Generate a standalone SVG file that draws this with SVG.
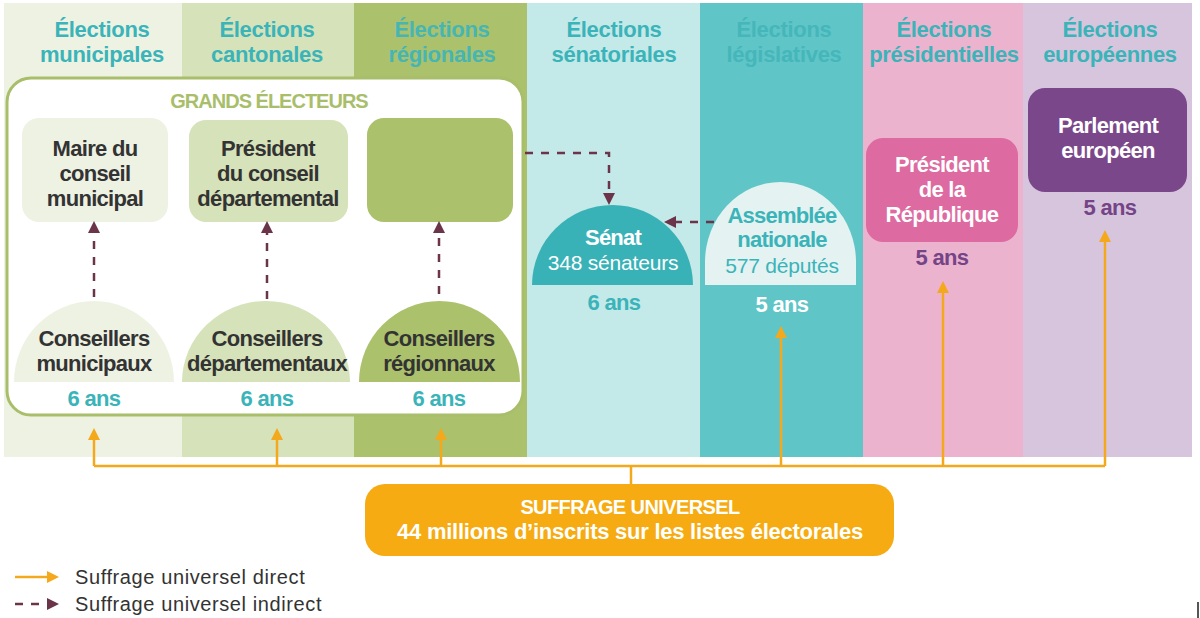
<svg xmlns="http://www.w3.org/2000/svg" width="1200" height="618" viewBox="0 0 1200 618">
<style>
  text { font-family: "Liberation Sans", Arial, sans-serif; text-anchor: middle; }
  .hd { font-size: 22px; font-weight: bold; fill: #3ab4b9; letter-spacing: -0.3px; }
  .nd { font-size: 22px; font-weight: bold; fill: #333333; letter-spacing: -0.7px; }
  .yr { font-size: 22px; font-weight: bold; fill: #3ab4b9; letter-spacing: -0.7px; }
  .wt { font-size: 22px; font-weight: bold; fill: #ffffff; letter-spacing: -0.7px; }
  .pu { font-size: 22px; font-weight: bold; fill: #744487; letter-spacing: -0.7px; }
  .lg { font-size: 20px; fill: #333333; text-anchor: start; letter-spacing: 0.6px; }
  .direct { fill: none; stroke: #f4a91c; stroke-width: 2.5; }
  .indirect { fill: none; stroke: #6b3448; stroke-width: 2.5; stroke-dasharray: 8 8; }
</style>
<defs>
  <marker id="ah-o" markerUnits="userSpaceOnUse" markerWidth="12" markerHeight="12" viewBox="0 0 10 10" refX="0" refY="5" orient="auto">
    <path d="M0,0 L10,5 L0,10 Z" fill="#f4a91c"/>
  </marker>
  <marker id="ah-m" markerUnits="userSpaceOnUse" markerWidth="12" markerHeight="12" viewBox="0 0 10 10" refX="0" refY="5" orient="auto">
    <path d="M0,0 L10,5 L0,10 Z" fill="#6b3448"/>
  </marker>
</defs>
<rect width="1200" height="618" fill="#ffffff"/>

<!-- columns -->
<g id="columns">
  <rect x="4" y="3" width="178" height="454" fill="#eef2e3"/>
  <rect x="182" y="3" width="172" height="454" fill="#d6e2b9"/>
  <rect x="354" y="3" width="173" height="454" fill="#abc16c"/>
  <rect x="527" y="3" width="173" height="454" fill="#c4e9e9"/>
  <rect x="700" y="3" width="163" height="454" fill="#5fc5c7"/>
  <rect x="863" y="3" width="160" height="454" fill="#ecb3cf"/>
  <rect x="1023" y="3" width="169" height="454" fill="#d7c5dd"/>
</g>
<g id="headers">
  <text class="hd" x="102" y="37">Élections</text><text class="hd" x="102" y="62">municipales</text>
  <text class="hd" x="267" y="37">Élections</text><text class="hd" x="267" y="62">cantonales</text>
  <text class="hd" x="442" y="37" style="fill:#46b6b4">Élections</text><text class="hd" x="442" y="62" style="fill:#46b6b4">régionales</text>
  <text class="hd" x="614" y="37">Élections</text><text class="hd" x="614" y="62">sénatoriales</text>
  <text class="hd" x="784" y="37" style="fill:#45b6ba">Élections</text><text class="hd" x="784" y="62" style="fill:#45b6ba">législatives</text>
  <text class="hd" x="944" y="37">Élections</text><text class="hd" x="944" y="62">présidentielles</text>
  <text class="hd" x="1110" y="37">Élections</text><text class="hd" x="1110" y="62">européennes</text>
</g>

<!-- grands electeurs -->
<g id="grands-electeurs">
  <rect x="7" y="78" width="516" height="337" rx="24" fill="#ffffff" stroke="#a9be6a" stroke-width="3"/>
  <text x="269" y="108" style="font-size:20px;font-weight:bold;fill:#a9be6a;letter-spacing:-1px">GRANDS ÉLECTEURS</text>
</g>

<g id="maire">
  <rect x="22" y="118" width="146" height="104" rx="17" fill="#eef2e3"/>
  <text class="nd" x="95" y="156">Maire du</text>
  <text class="nd" x="95" y="181">conseil</text>
  <text class="nd" x="95" y="206">municipal</text>
</g>
<g id="president-departemental">
  <rect x="189" y="120" width="159" height="102" rx="17" fill="#d6e2b9"/>
  <text class="nd" x="268" y="156">Président</text>
  <text class="nd" x="268" y="181">du conseil</text>
  <text class="nd" x="268" y="206">départemental</text>
</g>
<g id="president-regional">
  <rect x="367" y="118" width="146" height="104" rx="17" fill="#abc16c"/>
</g>

<g id="conseillers-municipaux">
  <path d="M14,382 A80,81 0 0 1 174,382 Z" fill="#eef2e3"/>
  <text class="nd" x="94" y="346">Conseillers</text>
  <text class="nd" x="94" y="371">municipaux</text>
  <text class="yr" x="94" y="406">6 ans</text>
</g>
<g id="conseillers-departementaux">
  <path d="M182,382 A84,81 0 0 1 350,382 Z" fill="#d6e2b9"/>
  <text class="nd" x="267" y="346">Conseillers</text>
  <text class="nd" x="267" y="371">départementaux</text>
  <text class="yr" x="267" y="406">6 ans</text>
</g>
<g id="conseillers-regionaux">
  <path d="M359,382 A80.5,81 0 0 1 520,382 Z" fill="#abc16c"/>
  <text class="nd" x="439" y="346">Conseillers</text>
  <text class="nd" x="439" y="371">régionnaux</text>
  <text class="yr" x="439" y="406">6 ans</text>
</g>

<g id="senat">
  <path d="M532,285 A80.5,80 0 0 1 693,285 Z" fill="#38b2b6"/>
  <text x="613" y="245" style="font-size:22px;font-weight:bold;fill:#ffffff;letter-spacing:-0.8px">Sénat</text>
  <text x="613" y="270" style="font-size:21px;fill:#ffffff;letter-spacing:-0.2px">348 sénateurs</text>
  <text class="yr" x="614" y="310">6 ans</text>
</g>
<g id="assemblee">
  <path d="M705,285 V262 A75.5,80 0 0 1 856,262 V285 Z" fill="#e4f2f2"/>
  <text x="782" y="223" style="font-size:22px;font-weight:bold;fill:#3ab4b9;letter-spacing:-0.8px">Assemblée</text>
  <text x="782" y="247" style="font-size:22px;font-weight:bold;fill:#3ab4b9;letter-spacing:-0.8px">nationale</text>
  <text x="782" y="273" style="font-size:21px;fill:#3ab4b9;letter-spacing:-0.2px">577 députés</text>
  <text class="wt" x="782" y="312">5 ans</text>
</g>
<g id="president-republique">
  <rect x="866" y="138" width="152" height="104" rx="17" fill="#dd6aa0"/>
  <text class="wt" x="942" y="172">Président</text>
  <text class="wt" x="942" y="197">de la</text>
  <text class="wt" x="942" y="222">République</text>
  <text class="pu" x="942" y="265">5 ans</text>
</g>
<g id="parlement-europeen">
  <rect x="1028" y="88" width="159" height="104" rx="17" fill="#7b478b"/>
  <text class="wt" x="1108" y="133">Parlement</text>
  <text class="wt" x="1108" y="158">européen</text>
  <text class="pu" x="1110" y="215">5 ans</text>
</g>

<g id="suffrage-universel">
  <rect x="365" y="484" width="529" height="72" rx="20" fill="#f6ab12"/>
  <text x="630" y="514" style="font-size:20px;font-weight:bold;fill:#ffffff;letter-spacing:-0.6px">SUFFRAGE UNIVERSEL</text>
  <text x="630" y="539" style="font-size:22px;font-weight:bold;fill:#ffffff;letter-spacing:-0.25px">44 millions d’inscrits sur les listes électorales</text>
</g>

<!-- connectors -->
<g id="connectors">
  <line class="indirect" x1="94" y1="297" x2="94" y2="233" marker-end="url(#ah-m)"/>
  <line class="indirect" x1="267" y1="299" x2="267" y2="233" marker-end="url(#ah-m)"/>
  <line class="indirect" x1="439" y1="294" x2="439" y2="233" marker-end="url(#ah-m)"/>
  <polyline class="indirect" points="525,153 609,153 609,193" marker-end="url(#ah-m)"/>
  <line class="indirect" x1="714" y1="222" x2="676" y2="222" marker-end="url(#ah-m)"/>

  <polyline class="direct" points="94,466 1105,466"/>
  <line class="direct" x1="631" y1="466" x2="631" y2="484"/>
  <line class="direct" x1="94" y1="466" x2="94" y2="440" marker-end="url(#ah-o)"/>
  <line class="direct" x1="277" y1="466" x2="277" y2="440" marker-end="url(#ah-o)"/>
  <line class="direct" x1="441" y1="466" x2="441" y2="440" marker-end="url(#ah-o)"/>
  <line class="direct" x1="781" y1="466" x2="781" y2="338" marker-end="url(#ah-o)"/>
  <line class="direct" x1="943" y1="466" x2="943" y2="293" marker-end="url(#ah-o)"/>
  <line class="direct" x1="1105" y1="466" x2="1105" y2="242" marker-end="url(#ah-o)"/>
</g>

<g id="legend">
  <line class="direct" x1="15" y1="577" x2="47" y2="577" marker-end="url(#ah-o)"/>
  <text class="lg" x="75" y="584">Suffrage universel direct</text>
  <line class="indirect" x1="15" y1="604" x2="47" y2="604" stroke-dasharray="6 7" marker-end="url(#ah-m)"/>
  <text class="lg" x="75" y="611">Suffrage universel indirect</text>
</g>
<rect x="1197" y="602" width="2" height="16" fill="#555555"/>
</svg>
